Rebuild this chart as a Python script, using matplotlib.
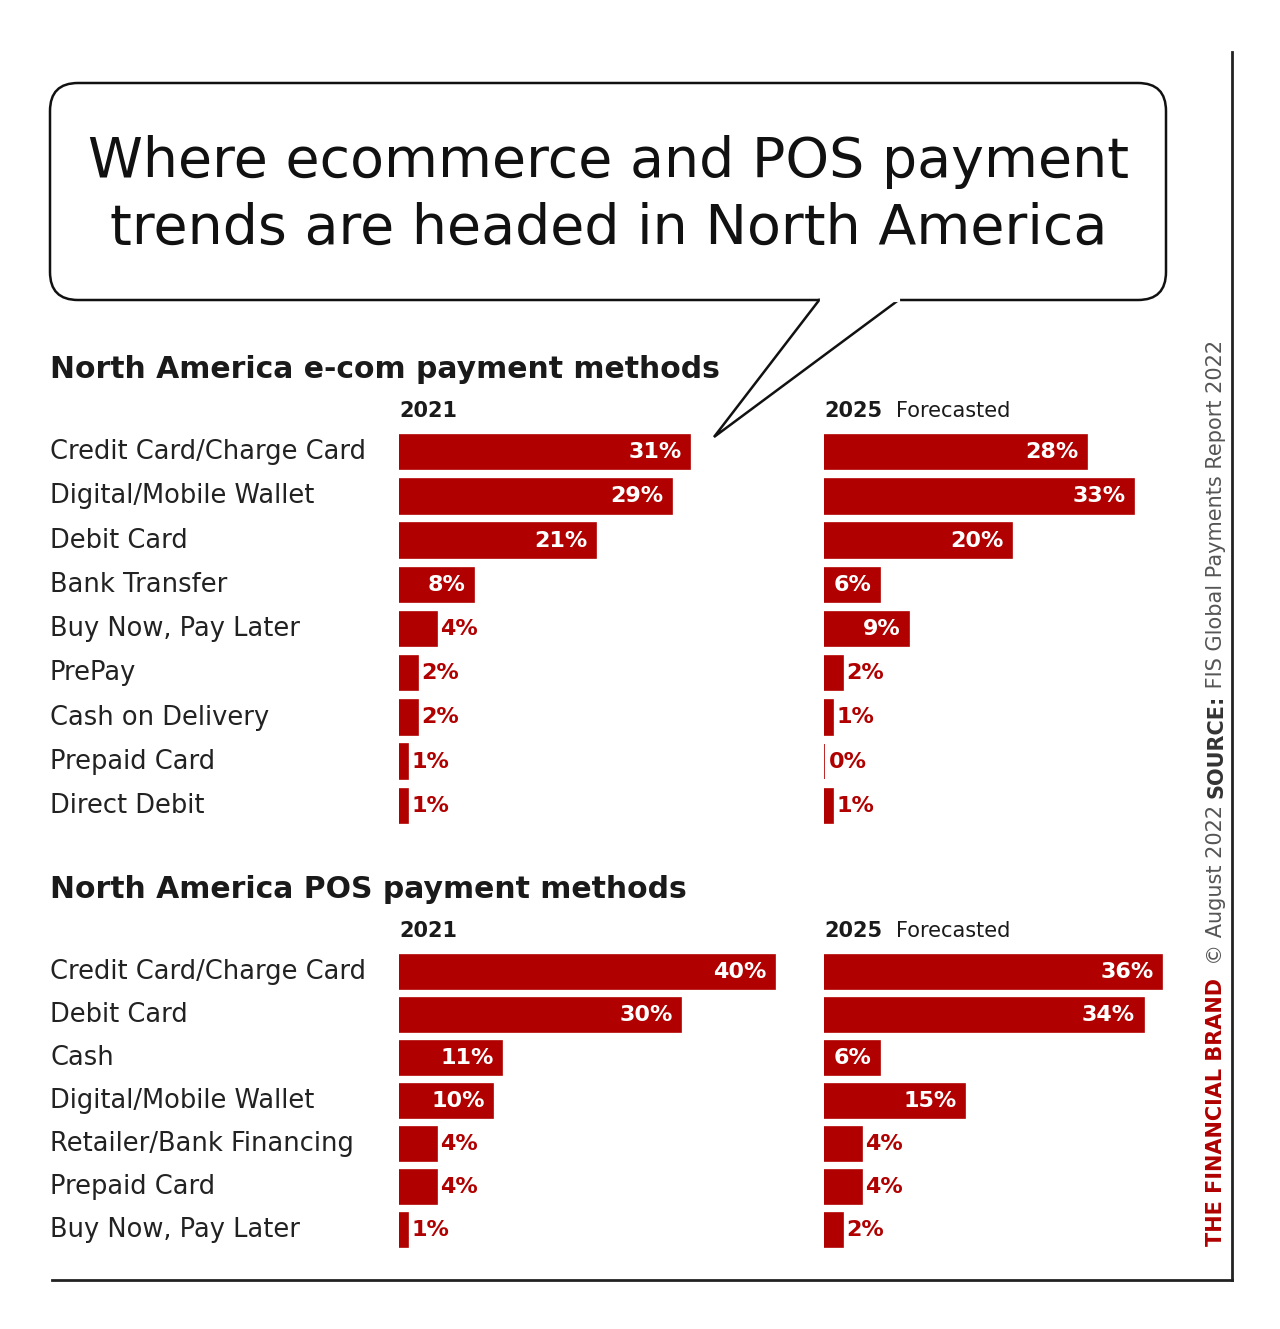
import matplotlib
matplotlib.use("Agg")
import matplotlib.pyplot as plt
from matplotlib.patches import FancyBboxPatch, Polygon

ecom_cats = ["Credit Card/Charge Card", "Digital/Mobile Wallet", "Debit Card", "Bank Transfer",
             "Buy Now, Pay Later", "PrePay", "Cash on Delivery", "Prepaid Card", "Direct Debit"]
ecom_2021 = [31, 29, 21, 8, 4, 2, 2, 1, 1]
ecom_2025 = [28, 33, 20, 6, 9, 2, 1, 0, 1]
pos_cats = ["Credit Card/Charge Card", "Debit Card", "Cash", "Digital/Mobile Wallet",
            "Retailer/Bank Financing", "Prepaid Card", "Buy Now, Pay Later"]
pos_2021 = [40, 30, 11, 10, 4, 4, 1]
pos_2025 = [36, 34, 6, 15, 4, 4, 2]

RED = "#B00000"
W, H = 1280, 1329
fig = plt.figure(figsize=(12.8, 13.29), dpi=100)
bg = fig.add_axes([0, 0, 1, 1])
bg.set_xlim(0, W); bg.set_ylim(H, 0); bg.axis("off")

# speech bubble
bg.add_patch(FancyBboxPatch((50, 83), 1116, 217, boxstyle="round,pad=0,rounding_size=28",
                            fc="white", ec="#111111", lw=1.8))
bg.add_patch(Polygon([(820, 299), (714, 437), (900, 299)], closed=False, fc="white", ec="#111111", lw=1.8))
bg.plot([822, 898], [300, 300], color="white", lw=3)
bg.text(609, 195, "Where ecommerce and POS payment\ntrends are headed in North America",
        ha="center", va="center", fontsize=40, linespacing=1.3, color="#111111")

# frame lines
bg.plot([1232, 1232], [52, 1280], color="#222222", lw=2)
bg.plot([52, 1232], [1280, 1280], color="#222222", lw=2)

def panel(left, top, bottom, vals, n):
    width = 400
    ax = fig.add_axes([left / W, 1 - bottom / H, width / W, (bottom - top) / H])
    ax.set_xlim(0, width / 9.4)
    ax.set_ylim(n - 0.5, -0.5)
    ax.axis("off")
    ys = list(range(n))
    ax.barh(ys, vals, height=0.78, color=RED, edgecolor=RED, linewidth=1.2)
    for y, v in zip(ys, vals):
        if v >= 6:
            ax.text(v - 0.9, y, f"{v}%", ha="right", va="center", color="white",
                    fontsize=16, fontweight="bold")
        else:
            ax.text(max(v, 0.15) + 0.35, y, f"{v}%", ha="left", va="center", color=RED,
                    fontsize=16, fontweight="bold")
    return ax

def section(heading, hy, cats, v21, v25, top, bottom, labely0, step, yr_y):
    bg.text(50, hy, heading, fontsize=21.5, fontweight="bold", color="#1a1a1a", va="center")
    bg.text(399, yr_y, "2021", fontsize=15, fontweight="bold", color="#1a1a1a", va="center")
    bg.text(824, yr_y, "2025", fontsize=15, fontweight="bold", color="#1a1a1a", va="center")
    bg.text(896, yr_y, "Forecasted", fontsize=15, color="#1a1a1a", va="center")
    for i, c in enumerate(cats):
        bg.text(50, labely0 + i * step, c, fontsize=18.5, color="#222222", va="center")
    panel(399, top, bottom, v21, len(cats))
    panel(824, top, bottom, v25, len(cats))

section("North America e-com payment methods", 370, ecom_cats, ecom_2021, ecom_2025,
        430, 828, 452, 44.3, 411)
section("North America POS payment methods", 889, pos_cats, pos_2021, pos_2025,
        950.5, 1251.5, 972, 43, 931)

# vertical credit text
fig.canvas.draw()
r = fig.canvas.get_renderer()
pieces = [("THE FINANCIAL BRAND", RED, "bold"), ("  © August 2022 ", "#555555", "normal"),
          ("SOURCE:", "#333333", "bold"), (" FIS Global Payments Report 2022", "#555555", "normal")]
y = 1246
for s, col, fw in pieces:
    t = bg.text(1216, y, s, rotation=90, ha="center", va="bottom", color=col,
                fontsize=15, fontweight=fw)
    ext = t.get_window_extent(r)
    y -= ext.height

fig.savefig("out.png", dpi=100, facecolor="white")
